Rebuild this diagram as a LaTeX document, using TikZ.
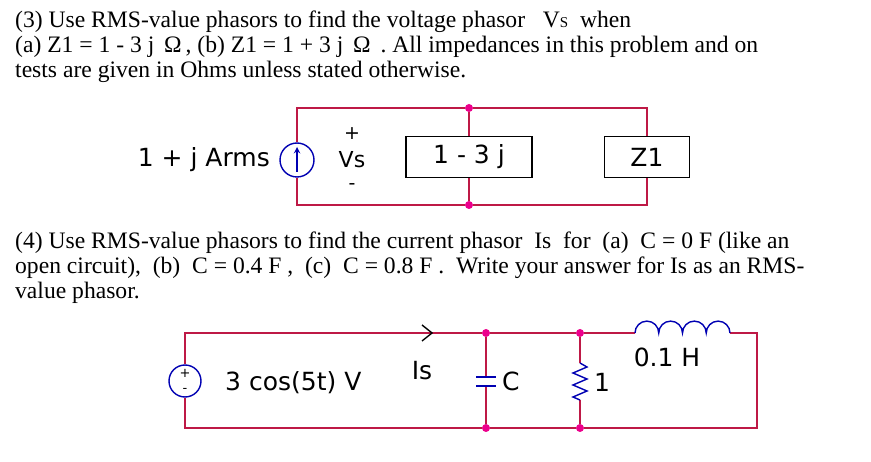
\documentclass[tikz,border=0pt]{standalone}
\usepackage{fontspec}
\setmainfont{Liberation Serif}
\newfontfamily\cf{DejaVu Sans}
\definecolor{wc}{RGB}{190,25,70}
\begin{document}
\begin{tikzpicture}[x=1pt,y=-1pt,
 wire/.style={draw=wc,line width=1.4pt},
 comp/.style={draw=blue!70!black,line width=1.4pt},
 dotj/.style={circle,fill=magenta,inner sep=0pt,minimum size=8pt},
 para/.style={anchor=west,inner sep=0pt,font=\fontsize{23.6}{23.6}\selectfont},
 lab/.style={inner sep=0pt,font=\cf\fontsize{25}{25}\selectfont},
 zbox/.style={draw,line width=1.8pt,minimum height=41pt,font=\cf\fontsize{25}{25}\selectfont}]
\useasboundingbox (0,0) rectangle (871,462);
% text
\node[para] (t1) at (15,22) {(3) Use RMS-value phasors to find the voltage phasor \ \ V{\fontsize{15}{15}\selectfont S}\ \ when};
\node[para] (t2) at (15,47) {(a) Z1 = 1 - 3 j \,Ω\,, (b) Z1 = 1 + 3 j \,Ω\, . All impedances in this problem and on};
\node[para] (t3) at (15,72) {tests are given in Ohms unless stated otherwise.};
\node[para] (p1) at (15,243) {(4) Use RMS-value phasors to find the current phasor \ Is \ for \ (a) \ C = 0 F (like an};
\node[para] (p2) at (15,268) {open circuit), \ (b) \ C = 0.4 F , \ (c) \ C = 0.8 F . \ Write your answer for Is as an RMS-};
\node[para] (p3) at (15,293) {value phasor.};
% circuit 1
\coordinate (a1) at (297,108); \coordinate (a2) at (297,205);
\node[dotj] (j1) at (469,108) {}; \node[dotj] (j2) at (469,205) {};
\coordinate (r1) at (647,108); \coordinate (r2) at (647,205);
\node[circle,comp,minimum size=34pt,inner sep=0pt] (is) at (297,160) {};
\draw[comp,line width=1.8pt,->,>=stealth] (297,172) -- (297,147);
\node[zbox,minimum width=126pt] (b1) at (469,157) {1 - 3 j};
\node[zbox,minimum width=85pt] (b2) at (647,157) {Z1};
\draw[wire] (is.north) -- (a1) -- (j1) -- (r1) -- (b2.north);
\draw[wire] (is.south) -- (a2) -- (j2) -- (r2) -- (b2.south);
\draw[wire] (j1) -- (b1.north); \draw[wire] (j2) -- (b1.south);
\node[lab,anchor=east] (l1) at (270,160) {1 + j Arms};
\node[lab,font=\cf\fontsize{19}{19}\selectfont] (pl) at (352,134) {+};
\node[lab,font=\cf\fontsize{22}{22}\selectfont] (vs) at (352,160) {Vs};
\node[lab,font=\cf\fontsize{19}{19}\selectfont] (mi) at (352,187) {-};
% circuit 2
\coordinate (c1) at (185,333); \coordinate (c2) at (185,428);
\node[dotj] (k1) at (486,333) {}; \node[dotj] (k2) at (486,428) {};
\node[dotj] (m1) at (580,333) {}; \node[dotj] (m2) at (580,428) {};
\coordinate (i1) at (635,333); \coordinate (i2) at (730,333);
\coordinate (e1) at (757,333); \coordinate (e2) at (757,428);
\node[circle,comp,minimum size=32pt,inner sep=0pt] (vsrc) at (185,381) {};
\node[inner sep=0pt,font=\cf\fontsize{13}{13}\selectfont] (vp) at (185,373) {+};
\node[inner sep=0pt,font=\cf\fontsize{13}{13}\selectfont] (vm) at (185,390) {-};
\draw[wire] (vsrc.north) -- (c1) -- (k1) -- (m1) -- (i1);
\draw[wire] (i2) -- (e1) -- (e2) -- (m2) -- (k2) -- (c2) -- (vsrc.south);
\draw[line width=1.4pt] (422,325) -- (432,333) -- (422,341);
% cap
\coordinate (ca) at (486,377); \coordinate (cb) at (486,386);
\draw[wire] (k1) -- (ca); \draw[wire] (cb) -- (k2);
\draw[comp] (476,377) -- (496,377); \draw[comp] (476,386) -- (496,386);
% resistor
\coordinate (ra) at (580,363); \coordinate (rb) at (580,400);
\draw[wire] (m1) -- (ra); \draw[wire] (rb) -- (m2);
\draw[comp] (ra) -- (587,367) -- (573,373) -- (587,379) -- (573,385) -- (587,391) -- (573,397) -- (rb);
% inductor
\draw[comp] (i1) arc (180:360:11.875) arc (180:360:11.875) arc (180:360:11.875) arc (180:360:11.875);
\node[lab,anchor=west] (vl) at (225,383) {3 cos(5t) V};
\node[lab] (isl) at (422,371) {Is};
\node[lab,anchor=west] (cl) at (502,381) {C};
\node[lab,anchor=west] (rl) at (594,382) {1};
\node[lab] (ll) at (667,357) {0.1 H};
\end{tikzpicture}
\end{document}
